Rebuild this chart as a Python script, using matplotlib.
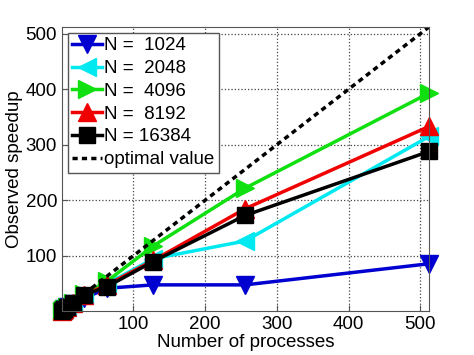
import matplotlib
matplotlib.use("Agg")
import matplotlib.pyplot as plt

plt.rcParams['font.family'] = ['Liberation Sans', 'DejaVu Sans']

procs = [1, 2, 4, 8, 16, 32, 64, 128, 256, 512]

speedup_1024 = [1, 2, 3.9, 7.6, 14, 24, 42, 48, 48, 86]
speedup_2048 = [1, 2, 3.9, 7.8, 15, 29, 50, 95, 127, 315]
speedup_4096 = [1, 2, 4, 7.9, 15.5, 31, 55, 118, 222, 393]
speedup_8192 = [1, 2, 4, 7.9, 15.5, 30, 48, 92, 185, 333]
speedup_16384 = [1, 2, 4, 7.9, 15.5, 30, 45, 90, 173, 288]

labels = ['N =  1024', 'N =  2048', 'N =  4096', 'N =  8192', 'N = 16384']
colors = ['#0000d0', '#00e8f0', '#10e010', '#f00000', '#000000']
markers = ['v', '<', '>', '^', 's']
series = [speedup_1024, speedup_2048, speedup_4096, speedup_8192, speedup_16384]

fig = plt.figure(figsize=(4.74, 3.55), dpi=100)
ax = fig.add_axes([62 / 474, 1 - 311 / 355, 367 / 474, 284 / 355])

for y, lab, c, m in zip(series, labels, colors, markers):
    ms = 11 if m == 's' else 13
    ax.plot(procs, y, color=c, marker=m, markersize=ms, linewidth=2.5,
            label=lab, clip_on=False)

opt, = ax.plot(procs, procs, 'k--', linewidth=2.5, label='optimal value')
opt.set_dashes([1.5, 1.2])

ax.set_xlim(1, 512)
ax.set_ylim(1, 512)
ax.set_xticks([100, 200, 300, 400, 500])
ax.set_yticks([100, 200, 300, 400, 500])
ax.grid(True, linestyle=':', color='#444444', linewidth=0.9)
ax.tick_params(labelsize=13.5, direction='in', length=4, color='#555555')
for s in ax.spines.values():
    s.set_color('#555555')

ax.set_xlabel('Number of processes', fontsize=13.5, labelpad=1)
ax.set_ylabel('Observed speedup', fontsize=13.5, labelpad=2)

leg = ax.legend(loc='upper left', fontsize=13.5, handlelength=1.6,
                handletextpad=0.1, borderpad=0.25, labelspacing=0.3,
                fancybox=False, framealpha=1, borderaxespad=0.3)
leg.get_frame().set_edgecolor('#555555')
leg.get_frame().set_linewidth(1.0)

fig.savefig('out.png', dpi=100)
